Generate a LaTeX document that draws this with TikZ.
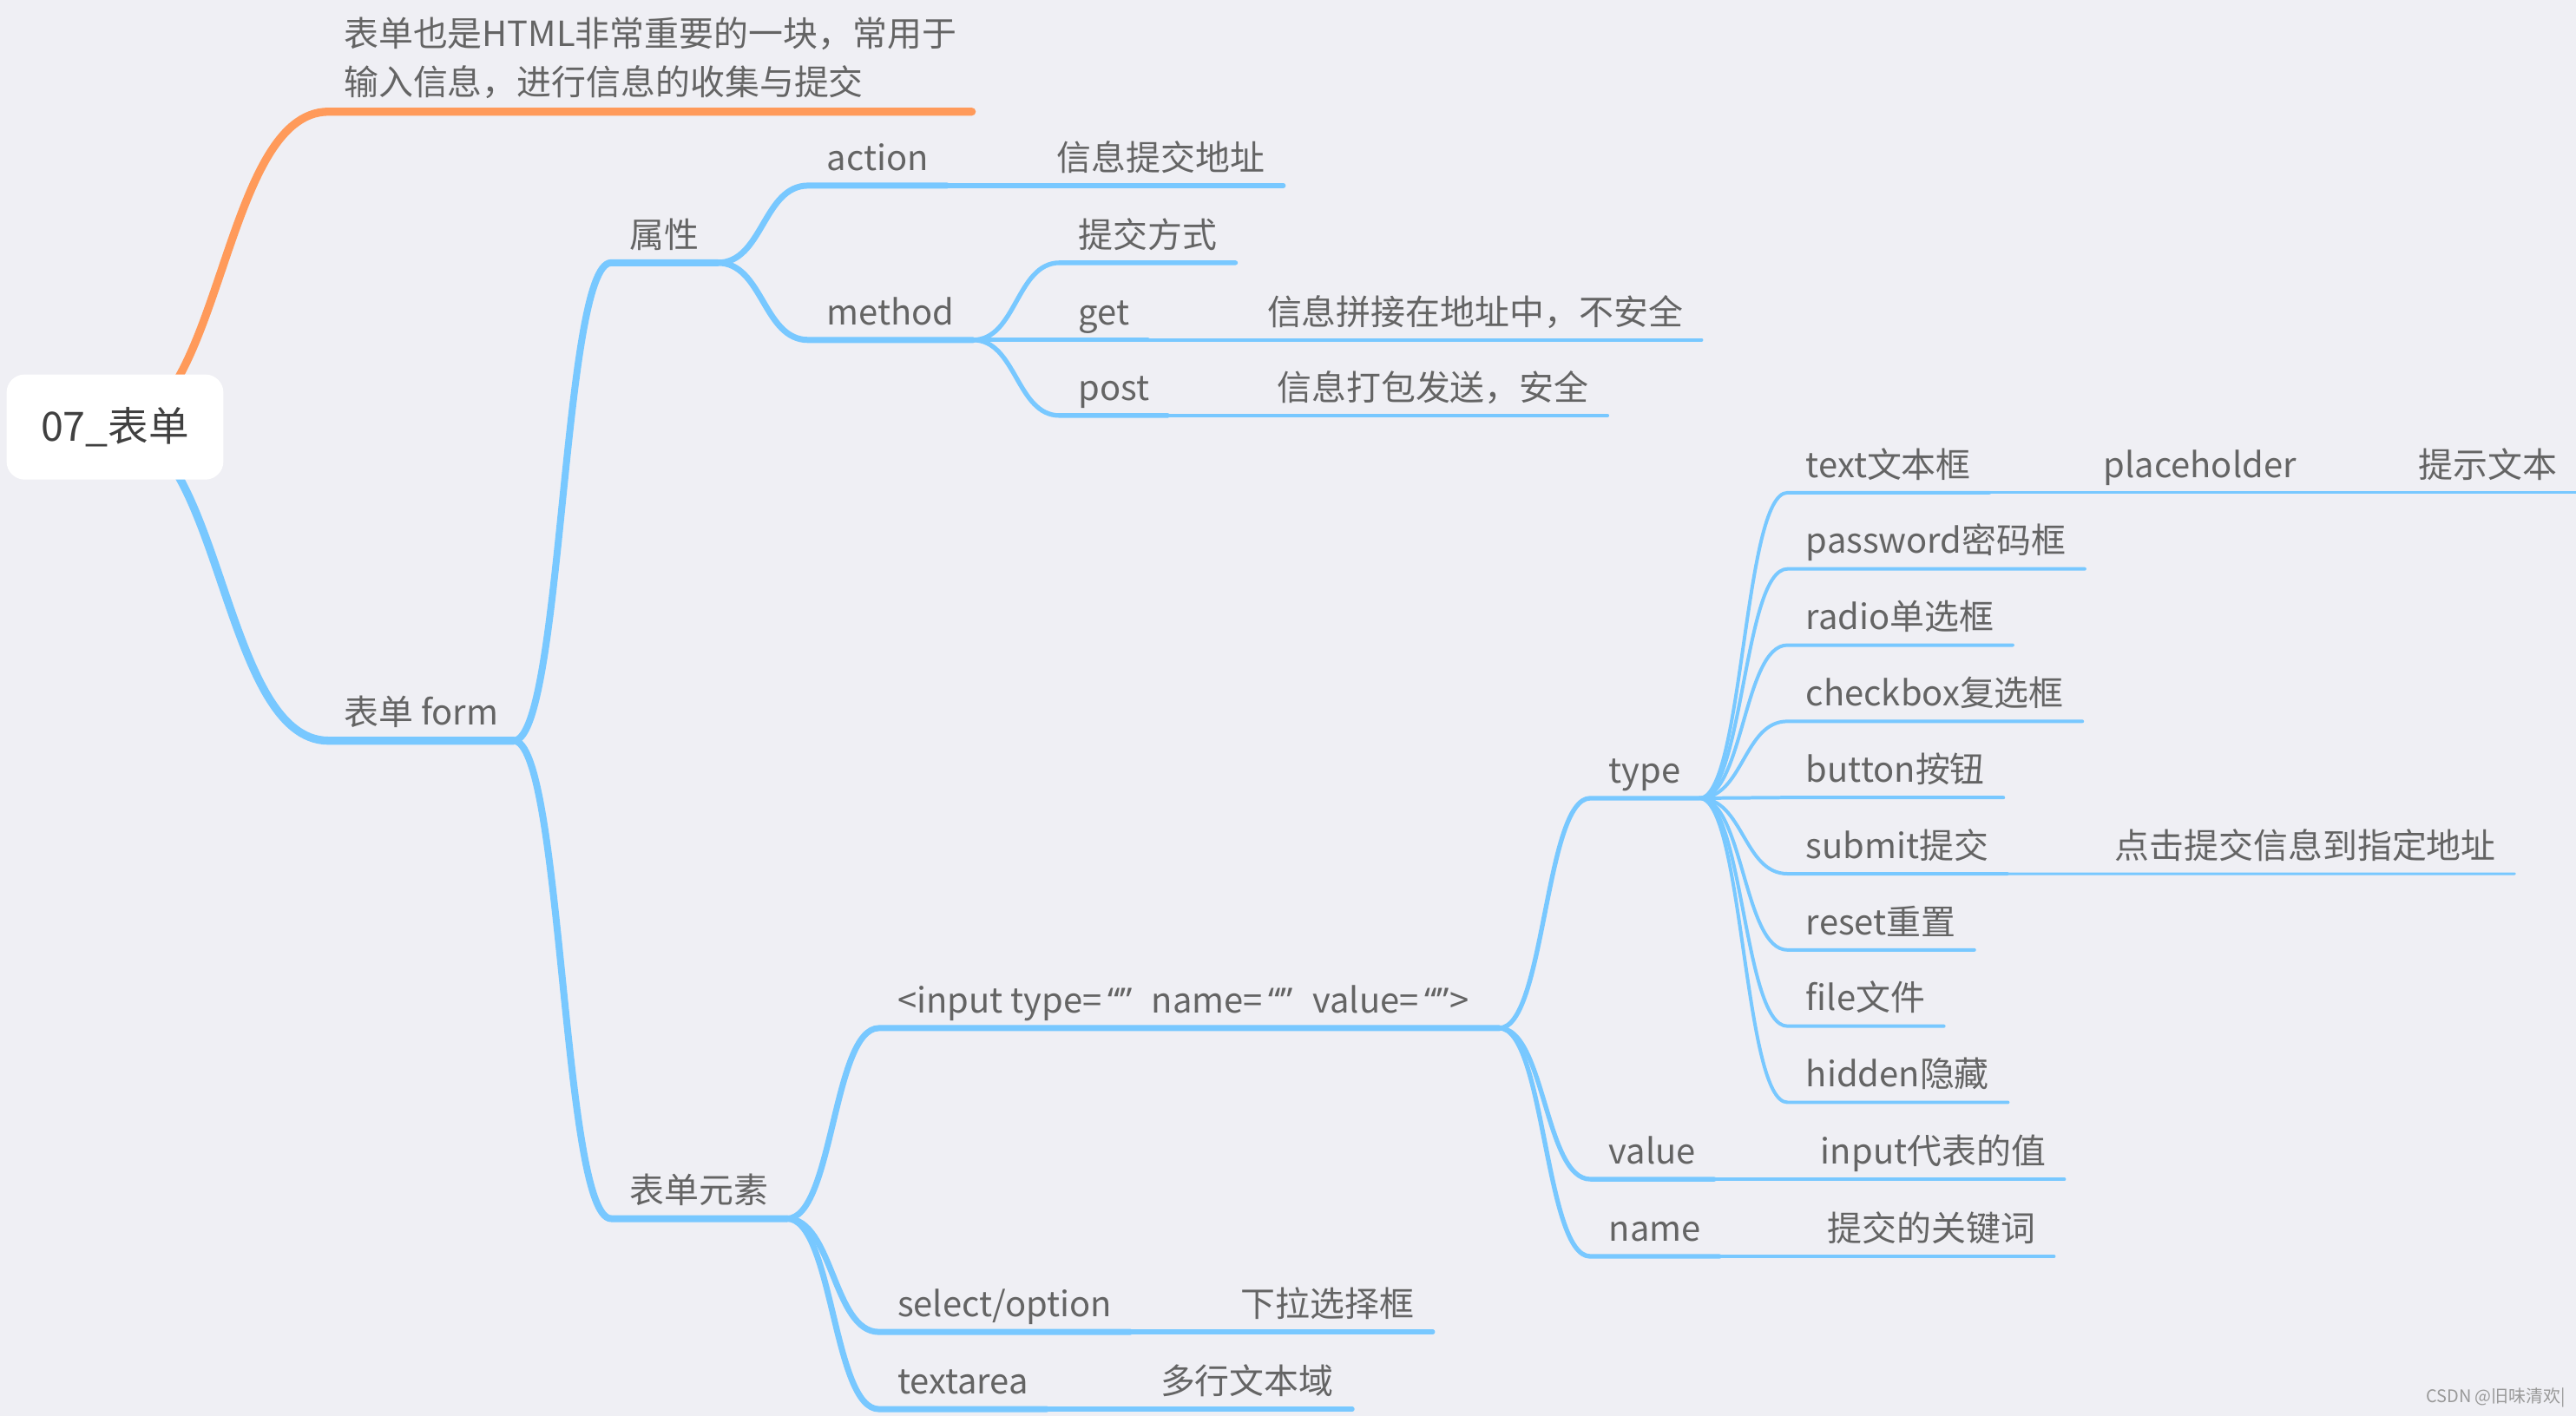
\documentclass[tikz,border=0pt]{standalone}
\usepackage{fontspec}
\usepackage{tikz}
\usetikzlibrary{calc, backgrounds}
\newfontfamily\cjk{Noto Sans CJK SC}
\newfontfamily\latin{Noto Sans}
\definecolor{bgcol}{RGB}{239,239,244}
\definecolor{lineblue}{RGB}{120,200,255}
\definecolor{lineorange}{RGB}{255,154,90}
\definecolor{txtgray}{RGB}{100,100,100}
\newcommand{\qq}{{\latin “”}}

\begin{document}
\begin{tikzpicture}[x=0.02cm, y=-0.02cm,
    topic/.style={font=\cjk\fontsize{12}{14}\selectfont, text=txtgray, anchor=south west,
        inner xsep=0.22cm, inner ysep=0.1cm, text height=0.34cm, text depth=0.08cm},
    rootbox/.style={font=\cjk\fontsize{14}{16}\selectfont, text=black!75, fill=white,
        rounded corners=0.22cm, minimum width=2.64cm, minimum height=1.28cm},
    link/.style={draw=lineblue, line cap=round, line join=round},
    lvA/.style={link, line width=2.8pt},
    lvB/.style={link, line width=2.4pt},
    lvC/.style={link, line width=2.1pt},
    lvD/.style={link, line width=1.6pt},
    lvE/.style={link, line width=1.2pt},
    lvF/.style={link, line width=0.9pt},
    sbend/.style={to path={let \p1=(\tikztostart), \p2=(\tikztotarget) in
        .. controls ({(\x1+\x2)/2},\y1) and ({(\x1+\x2)/2},\y2) .. (\tikztotarget)}}]
    \useasboundingbox (0,0) rectangle (1568,862);

    % root and first level
    \node[rootbox] (root) at (70,260) {07\_表单};
    \node[topic, align=left, text height={}, text depth={}, inner xsep=0.18cm, inner ysep=0.15cm,
        font=\cjk\fontsize{12}{17}\selectfont] (note) at (200,68)
        {表单也是HTML非常重要的一块，常用于\\输入信息，进行信息的收集与提交};
    \node[topic, inner xsep=0.18cm] (form) at (200,451) {表单 form};

    % attributes
    \node[topic] (attr) at (372,160) {属性};
    \node[topic] (action) at (492,113) {action};
    \node[topic] (addr) at (632,113) {信息提交地址};
    \node[topic] (method) at (492,207) {method};
    \node[topic] (way) at (645,160) {提交方式};
    \node[topic] (get) at (645,207) {get};
    \node[topic] (getinfo) at (760,207) {信息拼接在地址中，不安全};
    \node[topic] (post) at (645,253) {post};
    \node[topic] (postinfo) at (766,253) {信息打包发送，安全};

    % form elements
    \node[topic] (elems) at (372,742) {表单元素};
    \node[topic] (input) at (535,626)
        {\makebox[7.1cm][l]{<input type=\,\qq\,\, name=\,\qq\,\, value=\,\qq>}};
    \node[topic] (type) at (968,486) {type};
    \foreach \nm/\lbl [count=\i from 0] in {txtbox/text文本框, pwd/password密码框, radio/radio单选框,
        check/checkbox复选框, btn/button按钮, submit/submit提交, reset/reset重置,
        file/file文件, hidden/hidden隐藏}
        \node[topic] (\nm) at (1088,300+46.4*\i) {\lbl};
    \node[topic] (holder) at (1269,300) {placeholder};
    \node[topic] (hint) at (1461,300) {提示文本};
    \node[topic] (goto) at (1276,532) {点击提交信息到指定地址};
    \node[topic] (value) at (968,718) {value};
    \node[topic] (valinfo) at (1097,718) {input代表的值};
    \node[topic] (name) at (968,765) {name};
    \node[topic] (keyword) at (1101,765) {提交的关键词};
    \node[topic] (select) at (535,811) {select/option};
    \node[topic] (dropdown) at (744,811) {下拉选择框};
    \node[topic] (textarea) at (535,858) {textarea};
    \node[topic] (multi) at (695,858) {多行文本域};

    \node[font=\cjk\fontsize{6}{7}\selectfont, text=black!40, anchor=east, inner sep=0pt]
        (mark) at (1562,851) {CSDN @旧味清欢|};

    \begin{scope}[on background layer]
        \fill[bgcol] (0,0) rectangle (1568,862);
        % branches
        \draw[lvA, draw=lineorange] (root.center) to[sbend] (note.south west) -- (note.south east);
        \draw[lvA] (root.center) to[sbend] (form.south west) -- (form.south east);
        \draw[lvB] (form.south east) to[sbend] (attr.south west) -- (attr.south east);
        \draw[lvB] (form.south east) to[sbend] (elems.south west) -- (elems.south east);
        % attributes
        \draw[lvC] (attr.south east) to[sbend] (action.south west) -- (action.south east);
        \draw[lvC] (attr.south east) to[sbend] (method.south west) -- (method.south east);
        \draw[lvD] (action.south east) -- (addr.south west) -- (addr.south east);
        \foreach \nm in {way, get, post}
            \draw[lvD] (method.south east) to[sbend] (\nm.south west) -- (\nm.south east);
        \draw[lvE] (get.south east) -- (getinfo.south west) -- (getinfo.south east);
        \draw[lvE] (post.south east) -- (postinfo.south west) -- (postinfo.south east);
        % elements
        \foreach \nm in {input, select, textarea}
            \draw[lvC] (elems.south east) to[sbend] (\nm.south west) -- (\nm.south east);
        \draw[lvD] (select.south east) -- (dropdown.south west) -- (dropdown.south east);
        \draw[lvD] (textarea.south east) -- (multi.south west) -- (multi.south east);
        \foreach \nm in {type, value, name}
            \draw[lvD] (input.south east) to[sbend] (\nm.south west) -- (\nm.south east);
        \foreach \nm in {txtbox, pwd, radio, check, btn, submit, reset, file, hidden}
            \draw[lvE] (type.south east) to[sbend] (\nm.south west) -- (\nm.south east);
        \draw[lvE] (value.south east) -- (valinfo.south west) -- (valinfo.south east);
        \draw[lvE] (name.south east) -- (keyword.south west) -- (keyword.south east);
        \draw[lvF] (txtbox.south east) -- (holder.south west) -- (holder.south east);
        \draw[lvF] (holder.south east) -- (hint.south west) -- (hint.south east);
        \draw[lvF] (submit.south east) -- (goto.south west) -- (goto.south east);
    \end{scope}
\end{tikzpicture}
\end{document}
